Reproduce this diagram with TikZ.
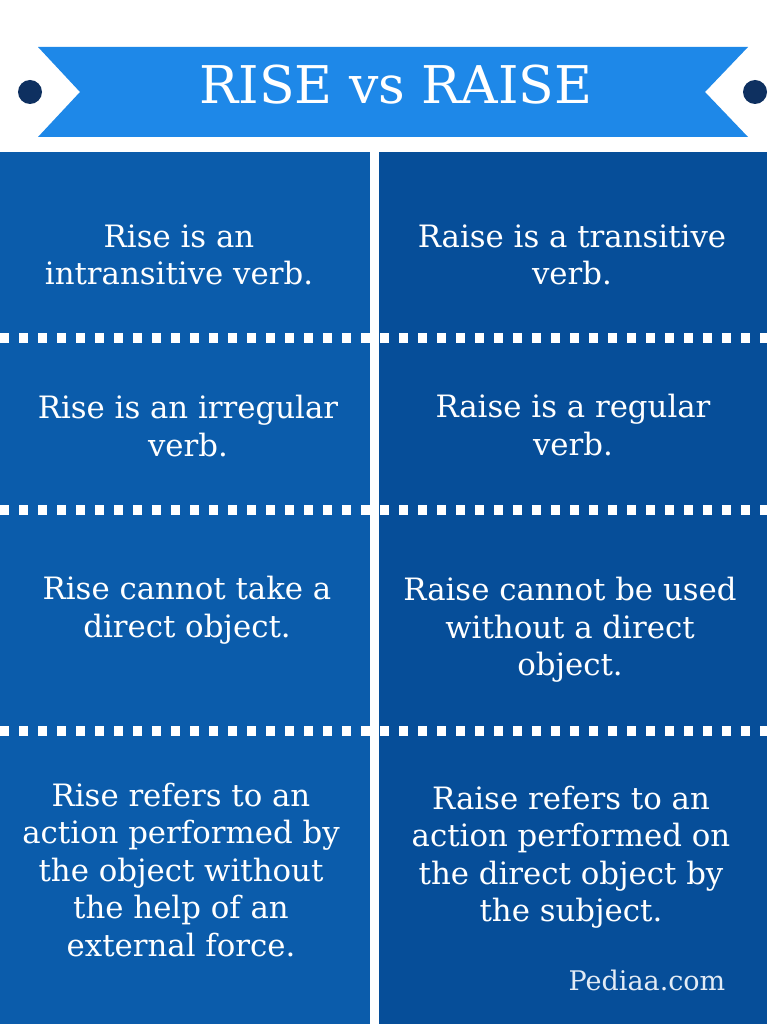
\documentclass[tikz,border=0pt]{standalone}
\usepackage{fontspec}
\setmainfont{DejaVu Serif}
\definecolor{bannerblue}{RGB}{30,136,232}
\definecolor{leftblue}{RGB}{11,92,171}
\definecolor{rightblue}{RGB}{6,78,153}
\definecolor{dotnavy}{RGB}{14,48,96}
\begin{document}
\begin{tikzpicture}[x=1pt,y=-1pt,
                    cell/.style = {text=white,
                                align=center,
                                inner sep=0pt,
                                font=\fontsize{30.8}{37.5}\selectfont},
                    square/.style = {fill=white}]
                    \useasboundingbox[fill=white] (0,0) rectangle (773,1024);
                    % Banner
                    \fill[bannerblue] (38,47) -- (748,47) -- (705,92) -- (748,137)
                        -- (38,137) -- (80,92) -- cycle;
                    \fill[dotnavy] (30,92) circle (12pt);
                    \fill[dotnavy] (755,92) circle (12pt);
                    \node[text=white,inner sep=0pt,
                          font=\fontsize{52}{60}\selectfont] (title) at (396,85) {RISE vs RAISE};
                    % Columns
                    \fill[leftblue] (0,152) rectangle (370,1024);
                    \fill[rightblue] (379,152) rectangle (767,1024);
                    % Dotted separators
                    \foreach \y in {338,510,731}
                        \foreach \x in {0,19,...,760}
                            \fill[square] (\x,\y-5) rectangle ++(9,10);
                    % Rise
                    \node[cell] (L1) at (179,255) {Rise is an\\intransitive verb.};
                    \node[cell] (L2) at (188,426) {Rise is an irregular\\verb.};
                    \node[cell] (L3) at (187,610) {Rise cannot take a\\direct object.};
                    \node[cell] (L4) at (181,870) {Rise refers to an\\action performed by\\the object without\\the help of an\\external force.};
                    % Raise
                    \node[cell] (R1) at (572,255) {Raise is a transitive\\verb.};
                    \node[cell] (R2) at (573,425) {Raise is a regular\\verb.};
                    \node[cell] (R3) at (570,630) {Raise cannot be used\\without a direct\\object.};
                    \node[cell] (R4) at (571,857) {Raise refers to an\\action performed on\\the direct object by\\the subject.};
                    % Logo
                    \node[text=white!88!leftblue,inner sep=0pt,
                          font=\fontsize{27}{32}\selectfont] (logo) at (647,980) {Pediaa.com};
                \end{tikzpicture}
\end{document}
